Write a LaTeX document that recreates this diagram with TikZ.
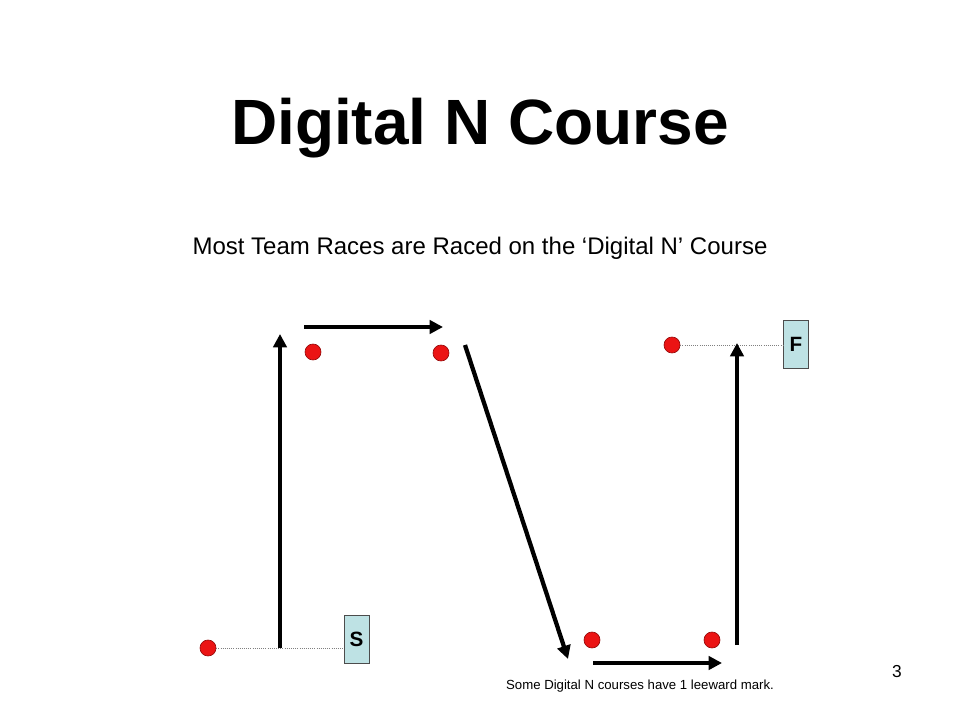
\documentclass[tikz,border=0pt]{standalone}
\usepackage{fontspec}
\setmainfont{Liberation Sans}
\usetikzlibrary{arrows.meta}
\definecolor{boxfill}{RGB}{190,226,228}
\definecolor{markred}{RGB}{235,20,20}
\definecolor{markedge}{RGB}{150,10,10}
\tikzset{
  mark dot/.style={circle,fill=markred,draw=markedge,line width=0.5pt,minimum size=12pt,inner sep=0pt},
  leg/.style={line width=3.2pt,-{Triangle[length=10pt,width=10pt]}},
  lineline/.style={densely dotted,draw=gray,line width=0.6pt},
  flagbox/.style={draw=black!70,fill=boxfill,line width=0.5pt,minimum width=18.5pt,minimum height=36pt,inner sep=0pt,font=\fontsize{15.5}{18}\selectfont\bfseries}
}
\begin{document}
\begin{tikzpicture}[x=0.75pt,y=-0.75pt]
\useasboundingbox (0,0) rectangle (960,720);
\fill[white] (0,0) rectangle (960,720);
% title
\node[font=\fontsize{48}{56}\selectfont\bfseries] (title) at (480,128) {Digital N Course};
\node[font=\fontsize{18}{22}\selectfont] (sub) at (480,248) {Most Team Races are Raced on the ‘Digital N’ Course};
% boxes
\node[flagbox] (S) at (356.5,639) {S};
\node[flagbox] (F) at (796,344) {F};
% marks
\node[mark dot] (m1) at (208,648) {};
\node[mark dot] (m2) at (313,352) {};
\node[mark dot] (m3) at (441,353) {};
\node[mark dot] (m4) at (672,345) {};
\node[mark dot] (m5) at (592,640) {};
\node[mark dot] (m6) at (712,640) {};
% start/finish lines
\draw[lineline] (m1.east) -- (S.west |- m1.east);
\draw[lineline] (m4.east) -- (F.west |- m4.east);
% legs
\coordinate (a1s) at (280,648);
\coordinate (a1e) at (280,334);
\coordinate (a2s) at (304,327);
\coordinate (a2e) at (443,327);
\coordinate (a3s) at (465,345);
\coordinate (a3e) at (568,659);
\coordinate (a4s) at (593,663);
\coordinate (a4e) at (722,663);
\coordinate (a5s) at (737,645);
\coordinate (a5e) at (737,343);
\draw[leg] (a1s) -- (a1e);
\draw[leg] (a2s) -- (a2e);
\draw[leg] (a3s) -- (a3e);
\draw[leg] (a4s) -- (a4e);
\draw[leg] (a5s) -- (a5e);
% notes
\node[font=\fontsize{9.9}{12}\selectfont] (note) at (640,686) {Some Digital N courses have 1 leeward mark.};
\node[font=\fontsize{13}{15}\selectfont] (pg) at (897,672) {3};
\end{tikzpicture}
\end{document}
